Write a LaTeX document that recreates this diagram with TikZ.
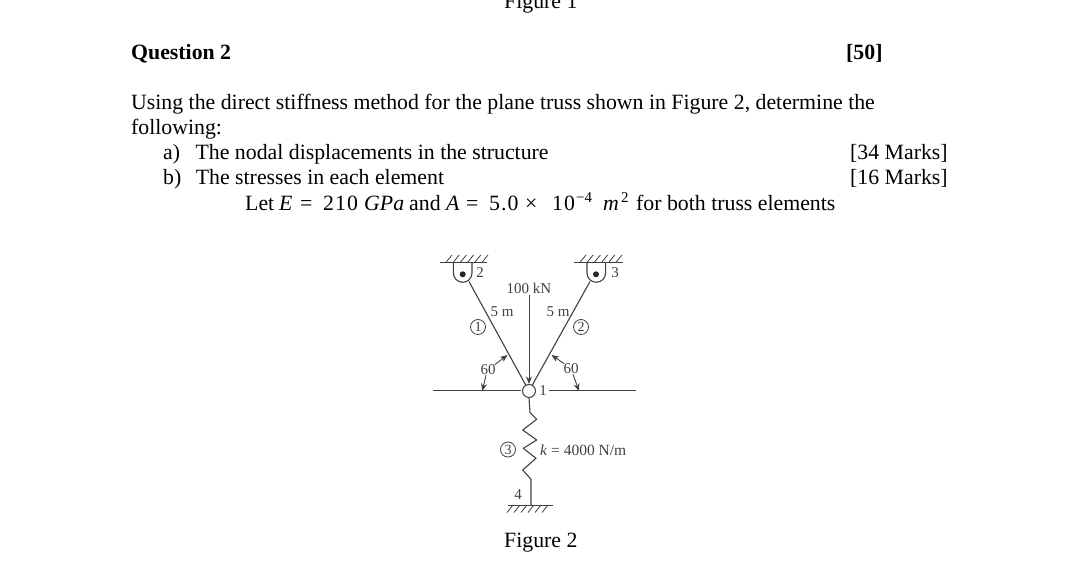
\documentclass[tikz,border=0pt]{standalone}
\usepackage{fontspec}
\setmainfont{Liberation Serif}
\usetikzlibrary{arrows.meta}
\definecolor{figink}{gray}{0.25}
\tikzset{
 x=1pt,y=-1pt,
 body/.style={anchor=base west,inner sep=0pt,font=\fontsize{21.8}{24}\selectfont},
 bodyb/.style={body,font=\fontsize{21.8}{24}\selectfont\bfseries},
 sup/.style={anchor=base west,inner sep=0pt,font=\fontsize{15}{16}\selectfont},
 member/.style={draw=figink,line width=1.1pt},
 thin line/.style={draw=figink,line width=1pt},
 hatchline/.style={draw=figink,line width=0.8pt},
 pointer/.style={draw=figink,line width=0.9pt,-{Stealth[length=7.5pt,width=6pt]}},
 lab/.style={inner sep=0pt,text=figink,font=\fontsize{15}{17}\selectfont},
 circ/.style={draw=figink,circle,line width=0.8pt,minimum size=15pt,inner sep=0pt,text=figink,font=\fontsize{14}{15}\selectfont},
 pin/.style={circle,fill=black!85,minimum size=6pt,inner sep=0pt},
 joint/.style={draw=figink,circle,fill=white,line width=1pt,minimum size=13pt,inner sep=0pt}
}
\begin{document}
\begin{tikzpicture}
\useasboundingbox (0,0) rectangle (1080,569);
% --- text
\node[body] (figone) at (504,9) {Figure 1};
\node[bodyb] (q) at (131,60) {Question 2};
\node[bodyb] (marks) at (846,60) {[50]};
\node[body] (l1) at (131,110) {Using the direct stiffness method for the plane truss shown in Figure 2, determine the};
\node[body] (l2) at (131,135) {following:};
\node[body] (a) at (163,160) {a)\kern 15.5pt The nodal displacements in the structure};
\node[body] (am) at (850,160) {[34 Marks]};
\node[body] (b) at (163,185) {b)\kern 14.5pt The stresses in each element};
\node[body] (bm) at (850,185) {[16 Marks]};
\node[body] (let) at (245,211) {Let};
\node[body] (eE) at (279,211) {\textit{E}};
\node[body] (eq1) at (300,211) {=};
\node[body] (v210) at (323,211) {\addfontfeature{LetterSpace=5}210};
\node[body] (gpa) at (364,211) {\textit{GPa}};
\node[body] (and) at (409,211) {and};
\node[body] (eA) at (446,211) {\textit{A}};
\node[body] (eq2) at (466,211) {=};
\node[body] (v5) at (489,211) {\addfontfeature{LetterSpace=5}5.0};
\node[body] (times) at (525,211) {×};
\node[body] (v10) at (552,211) {\addfontfeature{LetterSpace=5}10};
\node[sup] (expa) at (576,203) {−4};
\node[body] (em) at (603,211) {\textit{m}};
\node[sup] (expb) at (621,203) {2};
\node[body] (rest) at (636,211) {for both truss elements};
\node[body] (figtwo) at (504,547) {Figure 2};
% --- truss nodes
\node[joint] (n1) at (529,391) {};
\node[pin] (n2) at (462.7,274.3) {};
\node[pin] (n3) at (596,274.3) {};
\coordinate (e2) at (469,281.5);
\coordinate (e3) at (590,281.5);
% members
\draw[member] (e2) -- (n1);
\draw[member] (e3) -- (n1);
% supports
\foreach \n/\cx/\xa/\xb in {L/462.7/440/487,R/596.3/574/623}{
  \coordinate (c\n a) at (\xa,262.3);
  \coordinate (c\n b) at (\xb,262.3);
  \draw[thin line] (c\n a) -- (c\n b);
  \draw[member] (\cx-9.3,262.3) -- (\cx-9.3,273) arc[start angle=180,end angle=0,radius=9.3] -- (\cx+9.3,262.3);
  \foreach \i in {0,...,5}{
    \draw[hatchline] (\xa+6+\i*7.2,262.3) -- (\xa+12+\i*7.2,255);
  }
}
% load
\coordinate (loadtop) at (529,295);
\draw[pointer] (loadtop) -- (n1.north);
\node[lab] (load) at (529,288) {100 kN};
% base lines
\coordinate (hla) at (433,391); \coordinate (hlb) at (521,391);
\coordinate (hra) at (549,391); \coordinate (hrb) at (636,391);
\draw[thin line] (hla) -- (hlb);
\draw[thin line] (hra) -- (hrb);
% labels
\node[lab] (n2l) at (480,273) {2};
\node[lab] (n3l) at (615,273) {3};
\node[lab] (n1l) at (543,391) {1};
\node[lab] (len1) at (502,312) {5 m};
\node[lab] (len2) at (558,312) {5 m};
\node[circ] (m1) at (478,327) {1};
\node[circ] (m2) at (581,327) {2};
\node[circ] (m3) at (508,449.5) {3};
% angles
\node[lab] (a1) at (488,370) {60};
\node[lab] (a2) at (571,369) {60};
\coordinate (a1t) at (507.5,355); \coordinate (a1b) at (482.3,391);
\coordinate (a2t) at (551.5,355); \coordinate (a2b) at (579,391);
\draw[pointer] (a1.north east) ++(-1,0) -- (a1t);
\draw[pointer] (a1.south) ++(-2,0) -- (a1b);
\draw[pointer] (a2.north west) ++(1,0) -- (a2t);
\draw[pointer] (a2.south) ++(2,0) -- (a2b);
% spring
\coordinate (s0) at (530,412.7);
\coordinate (g4) at (531,505);
\draw[member,line join=round] (n1.south) -- (s0) -- (536.7,419.3) -- (522.7,430) -- (536.7,440) -- (523.3,448.3) -- (536,458.3) -- (522.7,470) -- (531,479.3) -- (g4);
% ground
\coordinate (ga) at (508,505); \coordinate (gb) at (553,505);
\draw[thin line] (ga) -- (gb);
\foreach \i in {0,...,5}{
  \draw[hatchline] (513+\i*7,505) -- (507+\i*7,512.5);
}
\node[lab] (n4l) at (518,495) {4};
\node[lab,anchor=west,font=\fontsize{15.5}{17}\selectfont] (kl) at (540,450) {\textit{k} = 4000 N/m};
\end{tikzpicture}
\end{document}
